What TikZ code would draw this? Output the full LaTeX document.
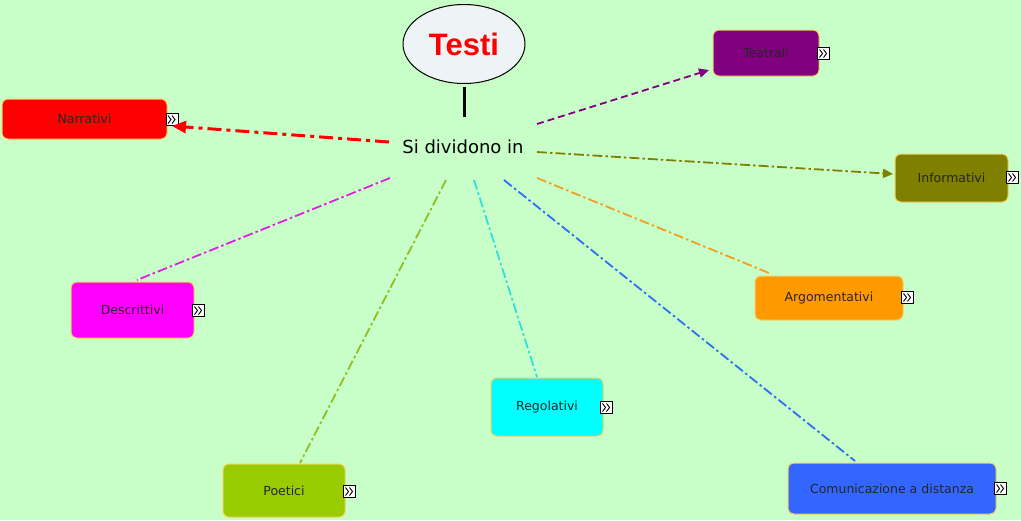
\documentclass[tikz,border=0pt]{standalone}
\usepackage{fontspec}
\setmainfont{DejaVu Sans}
\newfontfamily\arialfont{Liberation Sans}
\usetikzlibrary{shapes.geometric,arrows.meta}
\definecolor{bg}{HTML}{C8FFC8}
\definecolor{ellfill}{HTML}{EEF3F5}
\definecolor{brd}{HTML}{F0D060}
\definecolor{cNar}{HTML}{FF0000}
\definecolor{cTea}{HTML}{800080}
\definecolor{cInf}{HTML}{808000}
\definecolor{cArg}{HTML}{FF9900}
\definecolor{cDes}{HTML}{FF00FF}
\definecolor{cReg}{HTML}{00FFFF}
\definecolor{cPoe}{HTML}{99CC00}
\definecolor{cCom}{HTML}{3366FF}
\definecolor{lArg}{HTML}{F0A020}
\definecolor{lDes}{HTML}{E020E0}
\definecolor{lReg}{HTML}{30E0E0}
\definecolor{lPoe}{HTML}{90C020}
\definecolor{lCom}{HTML}{3070F0}
\tikzset{
  conc/.style={draw=brd, line width=1pt, rounded corners=6pt, font=\fontsize{12.5}{14}\selectfont, text=black!85, inner sep=0pt},
  icon/.style={draw=black, fill=white, line width=0.8pt, minimum width=12pt, minimum height=12pt, inner sep=0pt},
  dd/.style={line width=1.8pt, dash pattern=on 10pt off 3pt on 2.5pt off 3pt},
  ds/.style={line width=1.8pt, dash pattern=on 7pt off 4pt},
  tip/.style={-{Triangle[length=10pt,width=9pt]}},
}
\newcommand{\chev}[1]{%
  \draw[line width=0.9pt] ([xshift=-4pt,yshift=4pt]#1.center) -- ([xshift=-1pt]#1.center) -- ([xshift=-4pt,yshift=-4pt]#1.center);
  \draw[line width=0.9pt] ([xshift=0pt,yshift=4pt]#1.center) -- ([xshift=3pt]#1.center) -- ([xshift=0pt,yshift=-4pt]#1.center);
}
\begin{document}
\begin{tikzpicture}[x=1pt,y=-1pt]
\fill[bg] (0,0) rectangle (1021,520);
\useasboundingbox (0,0) rectangle (1021,520);

% central
\node[ellipse, draw=black, line width=1pt, fill=ellfill, minimum width=122pt, minimum height=79pt, inner sep=0pt,
  font=\arialfont\bfseries\fontsize{31}{33}\selectfont, text=red] (testi) at (464,44) {Testi};
\node[font=\fontsize{18}{20}\selectfont, inner sep=2pt] (si) at (463,147) {Si dividono in};
\coordinate (vtop) at (464,87);
\coordinate (vbot) at (464,117);
\draw[line width=3pt] (vtop) -- (vbot);

% concepts
\node[conc, fill=cNar, minimum width=165pt, minimum height=40pt] (nar) at (84.5,119) {Narrativi};
\node[conc, fill=cTea, minimum width=106pt, minimum height=46pt] (tea) at (766,53) {Teatrali};
\node[conc, fill=cInf, minimum width=113pt, minimum height=48pt] (inf) at (951.5,178) {Informativi};
\node[conc, fill=cArg, minimum width=148pt, minimum height=44pt] (arg) at (829,298) {Argomentativi};
\node[conc, fill=cDes, minimum width=123pt, minimum height=56pt] (des) at (132.5,310) {Descrittivi};
\node[conc, fill=cReg, minimum width=112pt, minimum height=58pt] (reg) at (547,407) {Regolativi};
\node[conc, fill=cPoe, minimum width=122pt, minimum height=53pt] (poe) at (284,490.5) {Poetici};
\node[conc, fill=cCom, minimum width=208pt, minimum height=51pt] (com) at (892,488.5) {Comunicazione a distanza};

% icons
\node[icon] (inar) at (172,119.5) {}; \chev{inar}
\node[icon] (itea) at (823.5,53.5) {}; \chev{itea}
\node[icon] (iinf) at (1012.5,177.5) {}; \chev{iinf}
\node[icon] (iarg) at (907.5,297.5) {}; \chev{iarg}
\node[icon] (ides) at (198.5,310.5) {}; \chev{ides}
\node[icon] (ireg) at (606.5,407.5) {}; \chev{ireg}
\node[icon] (ipoe) at (349.5,491.5) {}; \chev{ipoe}
\node[icon] (icom) at (1000.5,488.5) {}; \chev{icom}

% start points around "Si dividono in"
\coordinate (sNar) at (389,142);
\coordinate (sTea) at (537,124);
\coordinate (sInf) at (537,152);
\coordinate (sArg) at (537,178);
\coordinate (sDes) at (390,178);
\coordinate (sPoe) at (446,180);
\coordinate (sReg) at (474,180);
\coordinate (sCom) at (504,180);
\coordinate (eNar) at (172,126);
\coordinate (eTea) at (709,70);
\coordinate (eInf) at (893,174);
\coordinate (eArg) at (769,273);
\coordinate (eDes) at (137,280);
\coordinate (ePoe) at (300,463);
\coordinate (eReg) at (537,377);
\coordinate (eCom) at (855,461);

\draw[cNar, line width=3pt, dash pattern=on 14pt off 5pt on 4pt off 5pt, -{Triangle[length=14pt,width=12pt]}] (sNar) -- (eNar);
\draw[cTea, ds, tip] (sTea) -- (eTea);
\draw[cInf, dd, tip] (sInf) -- (eInf);
\draw[lArg, dd] (sArg) -- (eArg);
\draw[lDes, dd] (sDes) -- (eDes);
\draw[lPoe, dd] (sPoe) -- (ePoe);
\draw[lReg, dd] (sReg) -- (eReg);
\draw[lCom, dd] (sCom) -- (eCom);
\end{tikzpicture}
\end{document}
